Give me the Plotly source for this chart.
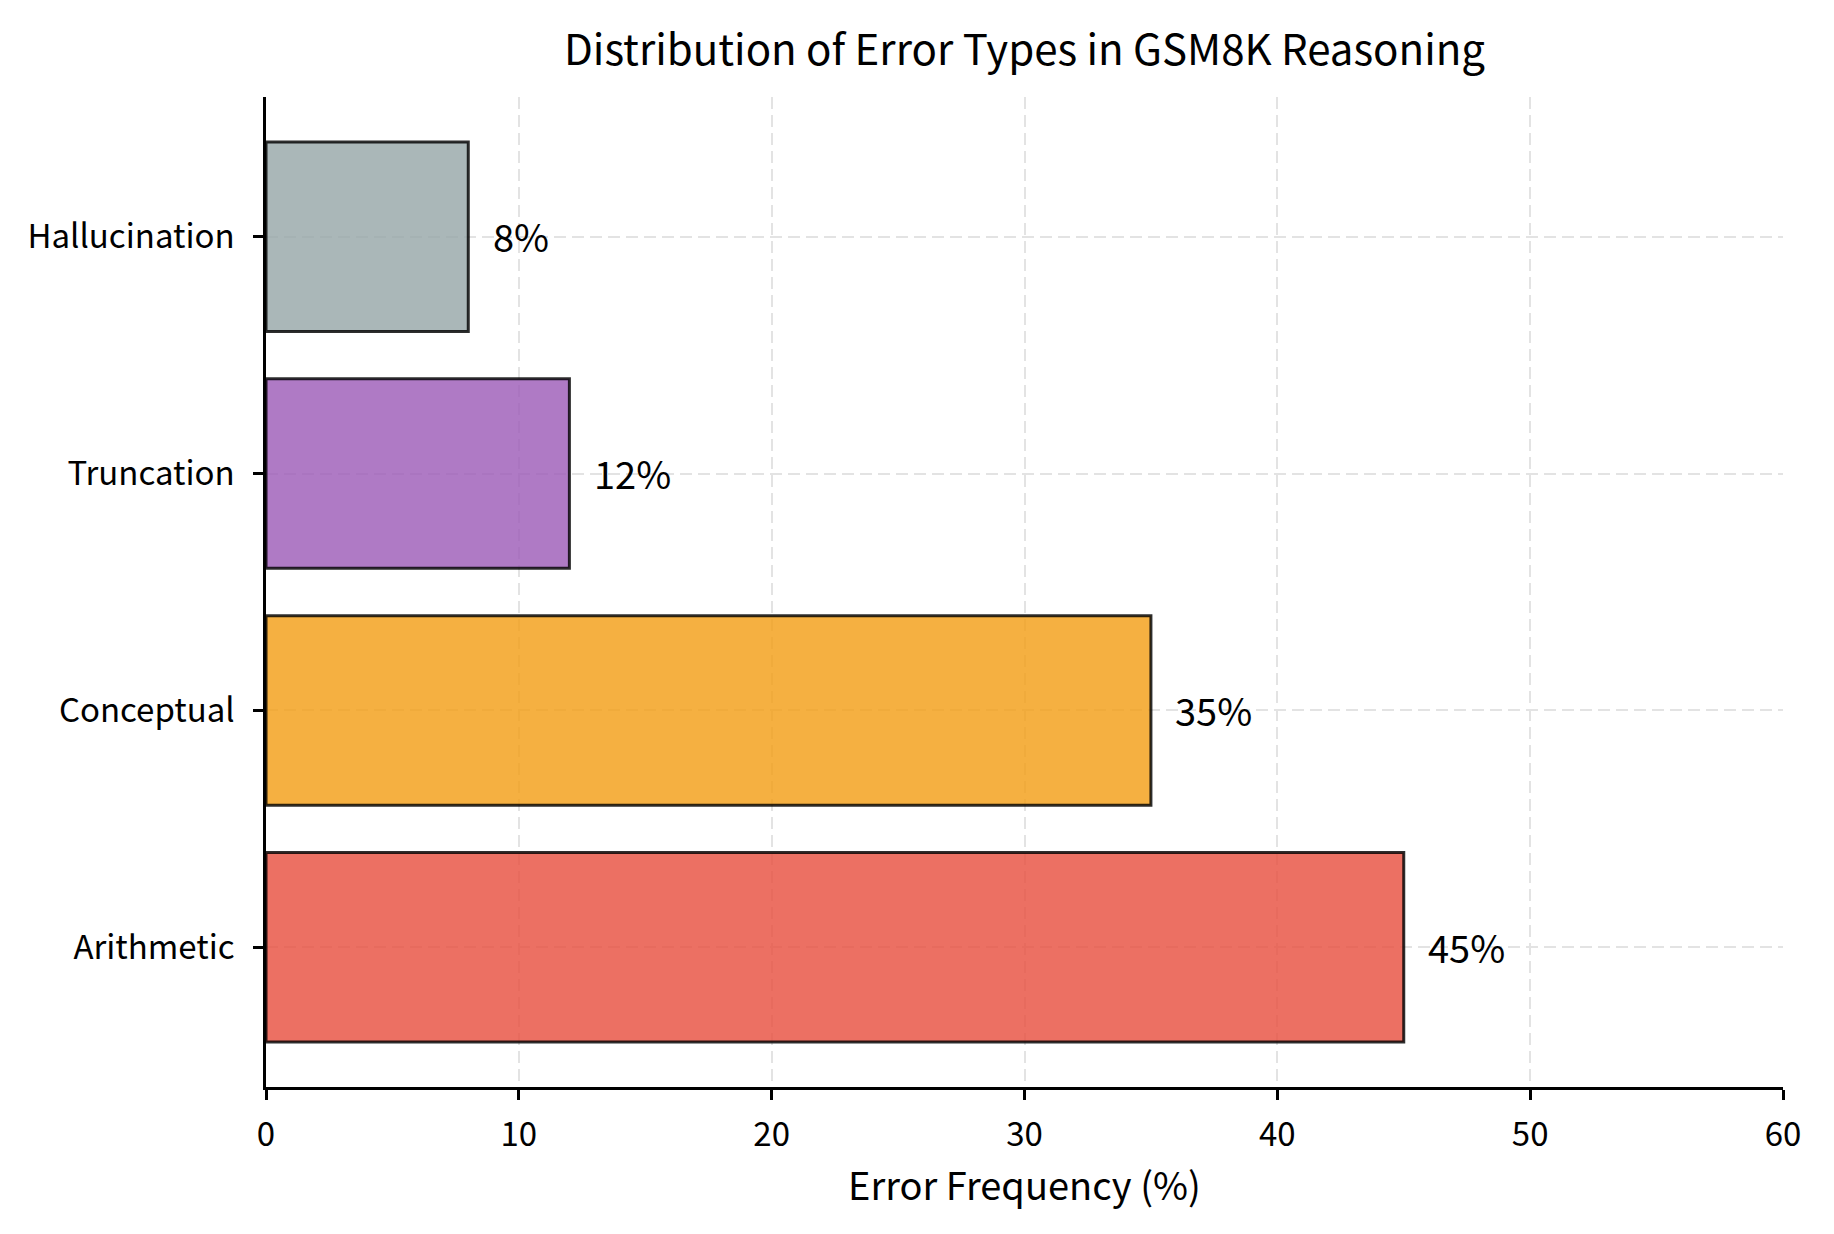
"""Distribuição dos tipos de erro (GSM8K) - barras horizontais."""
import plotly.graph_objects as go

# Dados
categories = ['Arithmetic', 'Conceptual', 'Truncation', 'Hallucination']
frequencies = [45, 35, 12, 8]
bar_colors = ['rgba(231,76,60,0.8)', 'rgba(243,156,18,0.8)',
              'rgba(155,89,182,0.8)', 'rgba(149,165,166,0.8)']
x_ticks = [0, 10, 20, 30, 40, 50, 60]
value_labels = [f'{v}%' for v in frequencies]

FONT = "Noto Sans CJK KR, Noto Sans, sans-serif"
W, H = 1834, 1234

fig = go.Figure()
fig.add_trace(go.Bar(
    y=categories, x=frequencies, orientation='h', width=0.8,
    marker=dict(color=bar_colors, line=dict(color='rgba(0,0,0,0.82)', width=3)),
    hoverinfo='x+y', showlegend=False,
))

# rótulos de valor à direita das barras
for cat, v, lab in zip(categories, frequencies, value_labels):
    fig.add_annotation(x=v + 1, y=cat, text=lab, showarrow=False,
                       xanchor='left', yanchor='middle', xshift=-3, yshift=1,
                       font=dict(family=FONT, size=38, color='black'))

fig.update_layout(
    width=W, height=H,
    font=dict(family=FONT, size=33, color='black'),
    plot_bgcolor='white', paper_bgcolor='white',
    margin=dict(l=258, r=W - 1775, t=89, b=H - 1079),
    title=dict(text='Distribution of Error Types in GSM8K Reasoning',
               x=0.5, xref='paper', xanchor='center',
               y=1 - 42 / H, yref='container', yanchor='middle',
               font=dict(family=FONT, size=42, color='black')),
)
fig.update_xaxes(
    range=[0, 60], tickvals=x_ticks, showgrid=True,
    gridcolor='#e3e3e3', gridwidth=2, griddash='12px,6px',
    showline=True, linecolor='black', linewidth=2.5,
    ticks='outside', ticklen=10, tickwidth=2.5, tickcolor='black',
    ticklabelstandoff=7, zeroline=False,
    title=dict(text='Error Frequency (%)', font=dict(size=38), standoff=14),
)
fig.update_yaxes(
    range=[-0.59, 3.59], showgrid=True,
    gridcolor='#e3e3e3', gridwidth=2, griddash='12px,6px',
    showline=True, linecolor='black', linewidth=2.5,
    ticks='outside', ticklen=10, tickwidth=2.5, tickcolor='black',
    ticklabelstandoff=12, zeroline=False,
)

fig.write_html("out.html")
